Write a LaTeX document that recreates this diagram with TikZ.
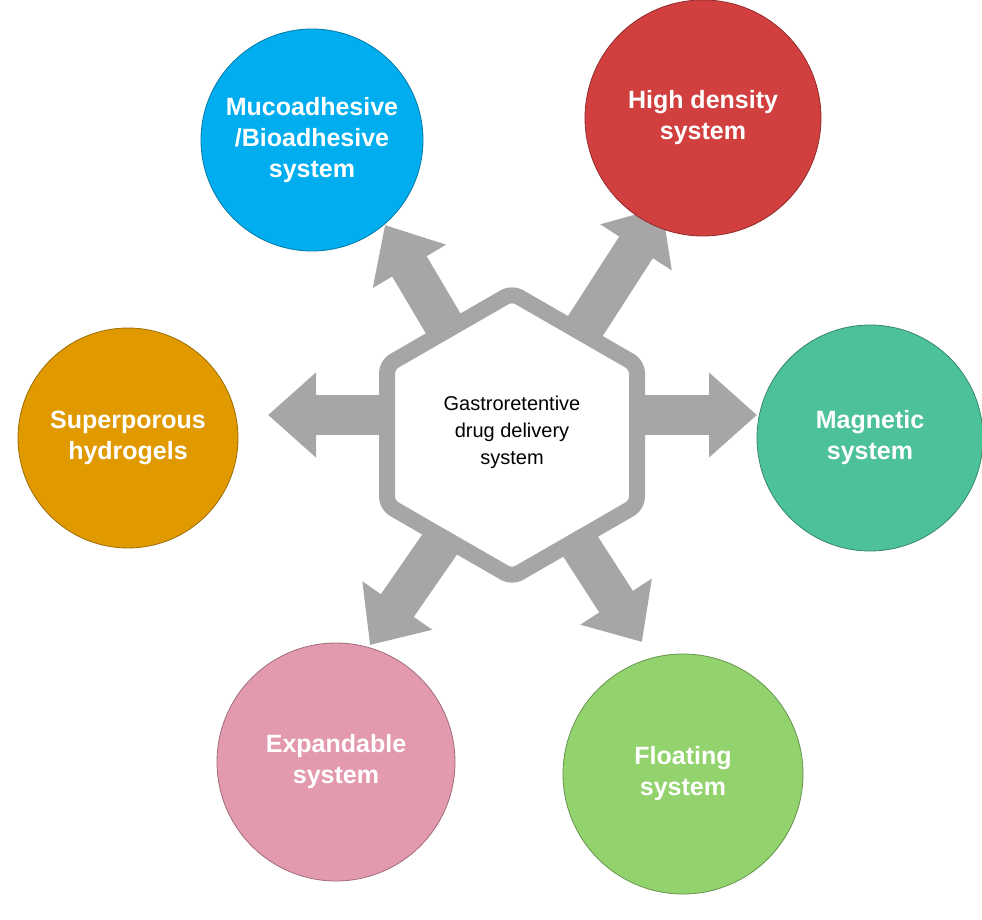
\documentclass[tikz,border=0pt]{standalone}
\usepackage{fontspec}
\setmainfont{Liberation Sans}
\usetikzlibrary{arrows.meta}
\definecolor{cblue}{HTML}{00AEEF}
\definecolor{cred}{HTML}{D13F3F}
\definecolor{cteal}{HTML}{4DC19A}
\definecolor{corange}{HTML}{E09A00}
\definecolor{cpink}{HTML}{E39AAE}
\definecolor{cgreen}{HTML}{92D36E}
\definecolor{agray}{HTML}{A6A6A6}
\tikzset{
 bubble/.style={circle,draw=#1!70!black,line width=0.8pt,fill=#1,text=white,font=\bfseries\fontsize{25}{31}\selectfont,align=center,inner sep=0pt},
 fat/.style={agray,line width=40pt,-{Triangle[width=82pt,length=48pt]}}
}
\begin{document}
\begin{tikzpicture}[x=1pt,y=-1pt]
\useasboundingbox (0,0) rectangle (982,920);
\coordinate (c) at (512,440);
\coordinate (ch) at (512,415);
\coordinate (t1) at (385,225);
\coordinate (t2) at (662,207);
\coordinate (t3) at (757,415);
\coordinate (t4) at (268,415);
\coordinate (t5) at (370,645);
\coordinate (t6) at (642,642);
\foreach \t in {t1,t2,t5,t6}{\draw[fat] (c) -- (\t);}
\foreach \t in {t3,t4}{\draw[fat] (ch) -- (\t);}
\draw[agray,line width=16pt,fill=white,rounded corners=8pt]
 (512,293) -- (637,365) -- (637,505) -- (512,577) -- (387,505) -- (387,365) -- cycle;
\node[align=center,font=\fontsize{20}{27}\selectfont] (hex) at (512,432) {Gastroretentive\\drug delivery\\system};
\node[bubble=cblue,minimum size=222pt] (m) at (312,140) {Mucoadhesive\\/Bioadhesive\\system};
\node[bubble=cred,minimum size=236pt] (h) at (703,118) {High density\\system};
\node[bubble=cteal,minimum size=226pt] (g) at (870,438) {Magnetic\\system};
\node[bubble=corange,minimum size=220pt] (s) at (128,438) {Superporous\\hydrogels};
\node[bubble=cpink,minimum size=238pt] (e) at (336,762) {Expandable\\system};
\node[bubble=cgreen,minimum size=240pt] (f) at (683,774) {Floating\\system};
\end{tikzpicture}
\end{document}
